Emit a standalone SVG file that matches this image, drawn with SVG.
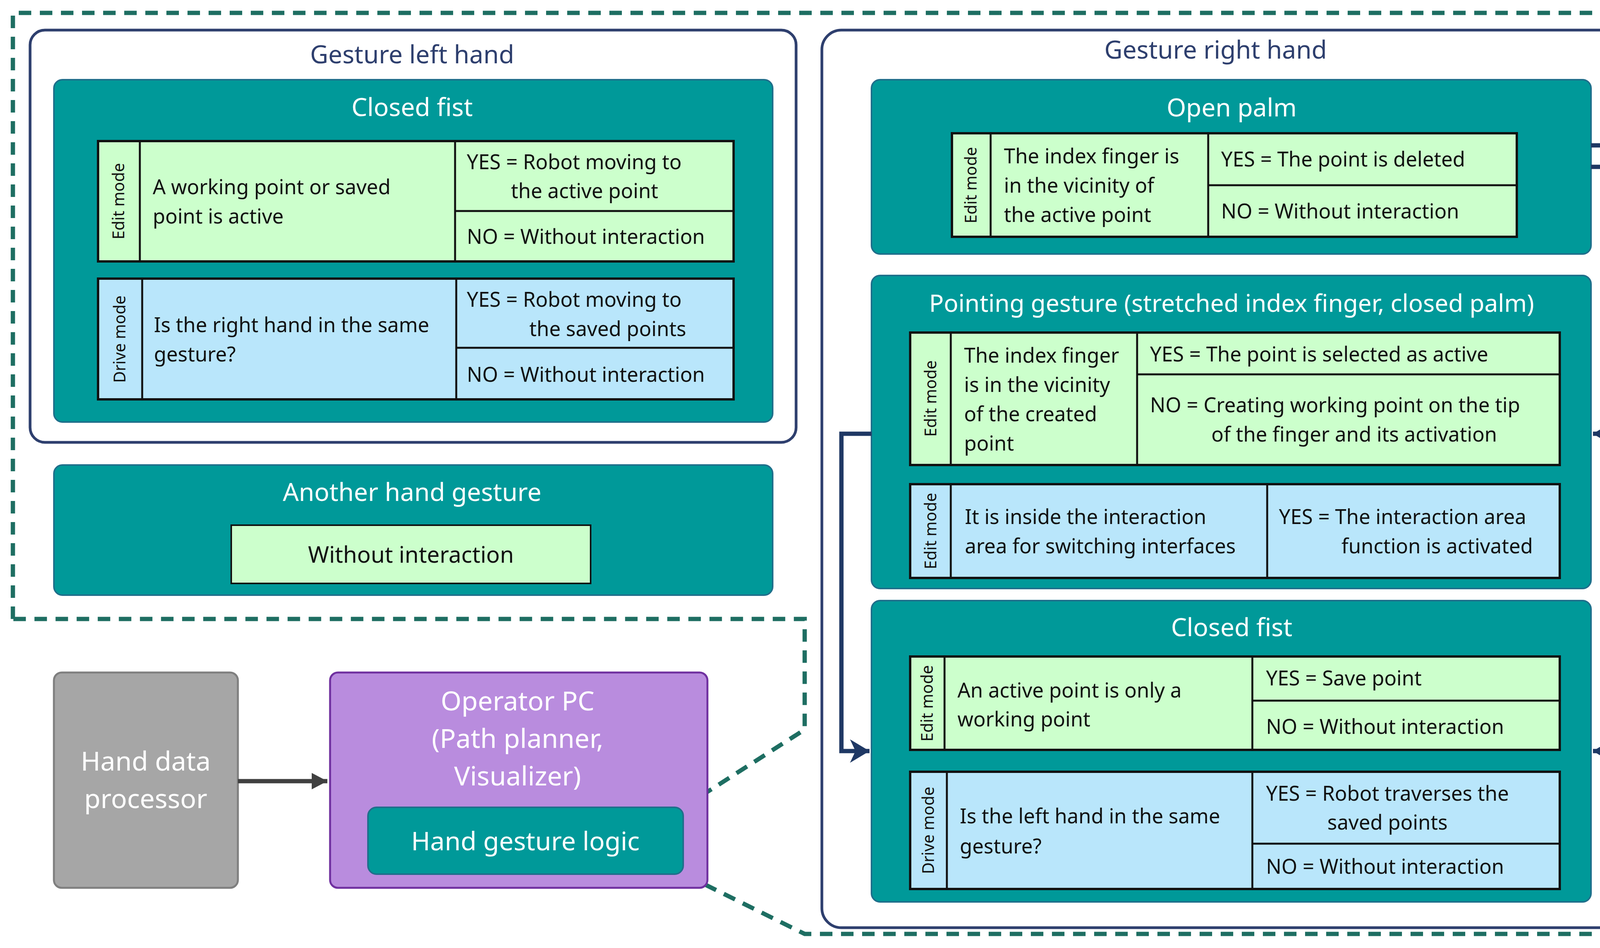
<svg xmlns="http://www.w3.org/2000/svg" width="4318" height="2426" viewBox="0 0 4318 2426">
<defs>
<marker id="ah" markerUnits="userSpaceOnUse" markerWidth="60" markerHeight="60" refX="50" refY="30" orient="auto" viewBox="0 0 60 60"><path d="M0,0 L50,30 L0,60 L14,30 Z" fill="#1F3864"/></marker>
<marker id="ahg" markerUnits="userSpaceOnUse" markerWidth="50" markerHeight="50" refX="40" refY="25" orient="auto" viewBox="0 0 50 50"><path d="M0,4 L40,25 L0,46 Z" fill="#404040"/></marker>
</defs>
<style>
text{font-family:"Noto Sans","Liberation Sans",sans-serif}
.outer{fill:#fff;stroke:#2E3F6E;stroke-width:7}
.teal{fill:#009999;stroke:#1F6F8B;stroke-width:4}
.green{fill:#CCFFCC;stroke:#111;stroke-width:6}
.blue{fill:#B9E6FB;stroke:#111;stroke-width:6}
.ln{stroke:#111;stroke-width:5}
.h1{font-size:64px;fill:#2E3F6E;text-anchor:middle}
.h2{font-size:64px;fill:#fff;text-anchor:middle}
.t{font-size:52px;fill:#111}
.m{font-size:41px;fill:#111;text-anchor:middle}
.con{fill:none;stroke:#1F3864;stroke-width:11}
.dash{fill:none;stroke:#1E6E62;stroke-width:11;stroke-dasharray:32 22}
</style>
<path class="dash" d="M33,1584 L33,33 L4285,33 L4285,2390 L2060,2390 L1749,2236 M1749,2066 L2060,1867 L2060,1584 L33,1584"/>
<g id="left-hand">
<rect class="outer" x="77" y="77" width="1961" height="1055" rx="38"/>
<text class="h1" x="1055" y="162">Gesture left hand</text>
</g>
<g id="left-closed-fist">
<rect class="teal" x="138" y="204" width="1840" height="876" rx="22"/>
<text class="h2" x="1055" y="297">Closed fist</text>
<rect class="green" x="251" y="361" width="1627" height="308"/>
<line class="ln" x1="358" y1="361" x2="358" y2="669"/><line class="ln" x1="1165" y1="361" x2="1165" y2="669"/><line class="ln" x1="1165" y1="540" x2="1878" y2="540"/>
<text class="m" transform="translate(318,515) rotate(-90)">Edit mode</text>
<text class="t" x="391" y="497">A working point or saved</text><text class="t" x="391" y="572">point is active</text>
<text class="t" x="1195" y="433">YES = Robot moving to</text><text class="t" x="1308" y="507">the active point</text>
<text class="t" x="1195" y="624">NO = Without interaction</text>
<rect class="blue" x="251" y="713" width="1627" height="309"/>
<line class="ln" x1="364" y1="713" x2="364" y2="1022"/><line class="ln" x1="1168" y1="713" x2="1168" y2="1022"/><line class="ln" x1="1168" y1="890" x2="1878" y2="890"/>
<text class="m" transform="translate(321,868) rotate(-90)">Drive mode</text>
<text class="t" x="394" y="850">Is the right hand in the same</text><text class="t" x="394" y="925">gesture?</text>
<text class="t" x="1195" y="785">YES = Robot moving to</text><text class="t" x="1355" y="860">the saved points</text>
<text class="t" x="1195" y="977">NO = Without interaction</text>
</g>
<g id="another-gesture">
<rect class="teal" x="138" y="1190" width="1840" height="333" rx="22"/>
<text class="h2" x="1055" y="1282">Another hand gesture</text>
<rect class="green" x="592" y="1344" width="920" height="149" style="stroke-width:4"/>
<text x="1052" y="1440" style="font-size:58px;fill:#111;text-anchor:middle">Without interaction</text>
</g>
<g id="hand-data-processor">
<rect x="138" y="1721" width="471" height="551" rx="20" fill="#A6A6A6" stroke="#7F7F7F" stroke-width="5"/>
<text class="h2" x="373" y="1972" style="font-size:68px">Hand data</text>
<text class="h2" x="373" y="2068" style="font-size:68px">processor</text>
</g>
<g id="operator-pc">
<rect x="845" y="1721" width="966" height="551" rx="20" fill="#B98CDE" stroke="#7030A0" stroke-width="5"/>
<text class="h2" x="1325" y="1818" style="font-size:68px">Operator PC</text>
<text class="h2" x="1325" y="1914" style="font-size:68px">(Path planner,</text>
<text class="h2" x="1325" y="2010" style="font-size:68px">Visualizer)</text>
</g>
<g id="hand-gesture-logic">
<rect class="teal" x="942" y="2066" width="807" height="171" rx="22"/>
<text class="h2" x="1345" y="2176" style="font-size:66px">Hand gesture logic</text>
</g>
<g id="right-hand">
<rect class="outer" x="2104" y="77" width="2154" height="2297" rx="50"/>
<text class="h1" x="3112" y="150">Gesture right hand</text>
</g>
<g id="open-palm">
<rect class="teal" x="2231" y="204" width="1842" height="446" rx="22"/>
<text class="h2" x="3153" y="298">Open palm</text>
<rect class="green" x="2437" y="341" width="1446" height="265"/>
<line class="ln" x1="2536" y1="341" x2="2536" y2="606"/><line class="ln" x1="3093" y1="341" x2="3093" y2="606"/><line class="ln" x1="3093" y1="474" x2="3883" y2="474"/>
<text class="m" transform="translate(2500,474) rotate(-90)">Edit mode</text>
<text class="t" x="2570" y="418">The index finger is</text><text class="t" x="2570" y="493">in the vicinity of</text><text class="t" x="2570" y="568">the active point</text>
<text class="t" x="3126" y="426">YES = The point is deleted</text>
<text class="t" x="3126" y="559">NO =  Without interaction</text>
</g>
<g id="pointing-gesture">
<rect class="teal" x="2231" y="705" width="1842" height="801" rx="22"/>
<text class="h2" x="3153" y="798" style="font-size:62px">Pointing gesture (stretched index finger, closed palm)</text>
<rect class="green" x="2330" y="851" width="1663" height="339"/>
<line class="ln" x1="2434" y1="851" x2="2434" y2="1190"/><line class="ln" x1="2911" y1="851" x2="2911" y2="1190"/><line class="ln" x1="2911" y1="958" x2="3993" y2="958"/>
<text class="m" transform="translate(2397,1020) rotate(-90)">Edit mode</text>
<text class="t" x="2468" y="928">The index finger</text><text class="t" x="2468" y="1003">is in the vicinity</text><text class="t" x="2468" y="1078">of the created</text><text class="t" x="2468" y="1153">point</text>
<text class="t" x="2944" y="925">YES = The point is selected as active</text>
<text class="t" x="2944" y="1055">NO =  Creating working point on the tip</text>
<text class="t" x="3101" y="1130">of the finger and its activation</text>
<rect class="blue" x="2330" y="1239" width="1663" height="240"/>
<line class="ln" x1="2434" y1="1239" x2="2434" y2="1479"/><line class="ln" x1="3244" y1="1239" x2="3244" y2="1479"/>
<text class="m" transform="translate(2397,1359) rotate(-90)">Edit mode</text>
<text class="t" x="2470" y="1341">It is inside the interaction</text><text class="t" x="2470" y="1416">area for switching interfaces</text>
<text class="t" x="3274" y="1341">YES = The interaction area</text><text class="t" x="3434" y="1416">function is activated</text>
</g>
<g id="right-closed-fist">
<rect class="teal" x="2231" y="1537" width="1842" height="771" rx="22"/>
<text class="h2" x="3153" y="1628">Closed fist</text>
<rect class="green" x="2330" y="1680" width="1663" height="239"/>
<line class="ln" x1="2418" y1="1680" x2="2418" y2="1919"/><line class="ln" x1="3206" y1="1680" x2="3206" y2="1919"/><line class="ln" x1="3206" y1="1793" x2="3993" y2="1793"/>
<text class="m" transform="translate(2388,1800) rotate(-90)">Edit mode</text>
<text class="t" x="2451" y="1785">An active point is only a</text><text class="t" x="2451" y="1859">working point</text>
<text class="t" x="3241" y="1754">YES = Save point</text>
<text class="t" x="3241" y="1878">NO = Without interaction</text>
<rect class="blue" x="2330" y="1975" width="1663" height="300"/>
<line class="ln" x1="2424" y1="1975" x2="2424" y2="2275"/><line class="ln" x1="3206" y1="1975" x2="3206" y2="2275"/><line class="ln" x1="3206" y1="2159" x2="3993" y2="2159"/>
<text class="m" transform="translate(2391,2125) rotate(-90)">Drive mode</text>
<text class="t" x="2457" y="2107">Is the left hand in the same</text><text class="t" x="2457" y="2184">gesture?</text>
<text class="t" x="3241" y="2049">YES = Robot traverses the</text><text class="t" x="3398" y="2123">saved points</text>
<text class="t" x="3241" y="2236">NO = Without interaction</text>
</g>
<g id="connectors">
<path class="con" d="M4073,372 L4214,372 L4214,1922 L4078,1922" marker-end="url(#ah)"/>
<path class="con" d="M4073,427 L4153,427 L4153,1110 L4078,1110" marker-end="url(#ah)"/>
<path class="con" d="M2231,1110 L2154,1110 L2154,1922 L2226,1922" marker-end="url(#ah)"/>
<path d="M609,1999 L838,1999" fill="none" stroke="#404040" stroke-width="11" marker-end="url(#ahg)"/>
</g>
</svg>
